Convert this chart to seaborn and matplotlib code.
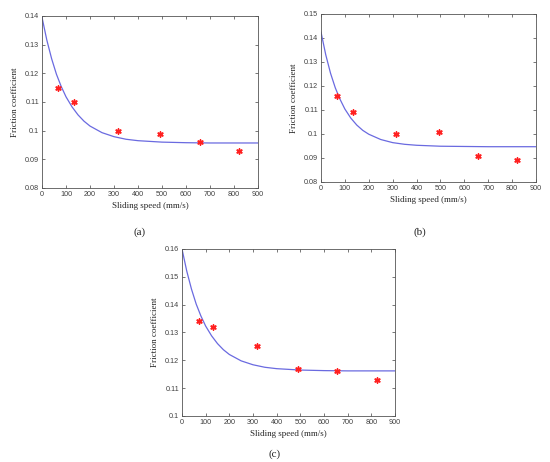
import numpy as np
import pandas as pd
import matplotlib
matplotlib.use('Agg')
import matplotlib.pyplot as plt
import seaborn as sns

# measured points
speed_a = [68, 133, 315, 490, 657, 822]
mu_a = [0.115, 0.110, 0.100, 0.099, 0.096, 0.093]
speed_b = [68, 133, 316, 494, 657, 822]
mu_b = [0.116, 0.109, 0.100, 0.101, 0.091, 0.089]
speed_c = [70, 133, 315, 490, 657, 823]
mu_c = [0.134, 0.132, 0.125, 0.117, 0.116, 0.113]

# fitted curves
fit_x = [0, 20, 40, 60, 80, 100, 125, 150, 175, 200, 250, 300, 350, 400, 500, 600, 700, 800, 900]
fit_a = [0.1395, 0.1316, 0.1251, 0.1197, 0.1154, 0.1118, 0.1083, 0.1055, 0.1033, 0.1016,
         0.0993, 0.0979, 0.0970, 0.0965, 0.0960, 0.0958, 0.0957, 0.0957, 0.0957]
fit_b = [0.1425, 0.1330, 0.1253, 0.1192, 0.1144, 0.1104, 0.1066, 0.1037, 0.1015, 0.0999,
         0.0977, 0.0964, 0.0957, 0.0953, 0.0949, 0.0948, 0.0947, 0.0947, 0.0947]
fit_c = [0.1600, 0.1521, 0.1456, 0.1402, 0.1359, 0.1323, 0.1288, 0.1260, 0.1238, 0.1221,
         0.1198, 0.1184, 0.1175, 0.1170, 0.1165, 0.1163, 0.1162, 0.1162, 0.1162]

ylims = {'a': (0.08, 0.14), 'b': (0.08, 0.15), 'c': (0.10, 0.16)}

sns.set_style('ticks')
plt.rcParams['font.family'] = ['Liberation Sans', 'DejaVu Sans']

fig = plt.figure(figsize=(5.5, 4.62), dpi=100)
boxes = {
    'a': [0.0764, 0.5931, 0.3927, 0.3723],
    'b': [0.5836, 0.6061, 0.3910, 0.3636],
    'c': [0.3309, 0.0996, 0.3873, 0.3615],
}
panels = {
    'a': (speed_a, mu_a, fit_a),
    'b': (speed_b, mu_b, fit_b),
    'c': (speed_c, mu_c, fit_c),
}
label_pos = {'a': (140, 232), 'b': (420, 232), 'c': (275, 454)}

serif = ['Liberation Serif', 'DejaVu Serif']
for key, (sx, sy, fy) in panels.items():
    ax = fig.add_axes(boxes[key])
    fit_df = pd.DataFrame({'x': fit_x, 'y': fy})
    pts_df = pd.DataFrame({'x': sx, 'y': sy})
    sns.lineplot(data=fit_df, x='x', y='y', ax=ax, color='#6a6ae0', linewidth=0.9)
    sns.scatterplot(data=pts_df, x='x', y='y', ax=ax, marker=(6, 2, 0), color='#ff2020',
                    s=14, edgecolor='#ff2020', linewidth=1.1, zorder=3)
    ax.set_xlim(0, 900)
    ax.set_ylim(*ylims[key])
    ax.set_xticks(range(0, 901, 100))
    lo, hi = ylims[key]
    yt = np.round(np.arange(lo, hi + 1e-9, 0.01), 2)
    ax.set_yticks(yt)
    ax.set_yticklabels([('%g' % v) for v in yt])
    ax.tick_params(direction='in', length=2.5, width=0.5, labelsize=5.2,
                   colors='#404040', top=True, right=True, pad=2)
    for sp in ax.spines.values():
        sp.set_linewidth(0.6)
        sp.set_color('#555555')
        sp.set_visible(True)
    ax.set_xlabel('Sliding speed (mm/s)', family=serif, fontsize=6.5, labelpad=3)
    ax.set_ylabel('Friction coefficient', family=serif, fontsize=6.5, labelpad=4)
    lx, ly = label_pos[key]
    fig.text(lx / 550, 1 - ly / 462, '(%s)' % key, family=serif, fontsize=8,
             ha='center', va='center')

fig.savefig('out.png', dpi=100)
